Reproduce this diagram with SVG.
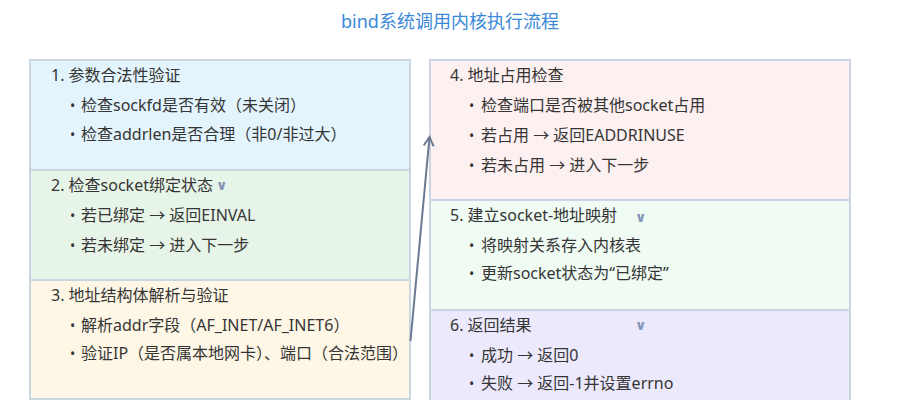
<svg xmlns="http://www.w3.org/2000/svg" width="900" height="400" viewBox="0 0 900 400">
  <defs>
    <style>
      .box { stroke: #c9d5e1; stroke-width: 2; }
      .t { font-family: "Noto Sans", "Noto Sans CJK SC", sans-serif; font-size: 16px; fill: #353535; }
      .b { font-family: "Noto Sans", sans-serif; font-size: 14px; fill: #353535; }
      .title { font-family: "Noto Sans", "Noto Sans CJK SC", sans-serif; font-size: 18px; fill: #3a88d8; }
      .chev { font-family: "DejaVu Sans", sans-serif; font-size: 14px; font-weight: bold; fill: #8494b4; }
      .conn { stroke: #6b7a90; stroke-width: 2; fill: none; }
    </style>
    <marker id="arr" viewBox="0 0 12 12" refX="10" refY="6" markerWidth="12" markerHeight="12" markerUnits="userSpaceOnUse" orient="auto">
      <path d="M1,1 L10,6 L1,11" fill="none" stroke="#6b7a90" stroke-width="2"/>
    </marker>
  </defs>
  <rect width="900" height="400" fill="#ffffff"/>
  <text class="title" x="450" y="28" text-anchor="middle">bind系统调用内核执行流程</text>

  <g id="node1">
    <rect class="box" x="30" y="60" width="380" height="110" fill="#e3f4fd"/>
    <text class="t" x="51" y="81">1. 参数合法性验证</text>
    <text class="b" x="70" y="111">•</text>
    <text class="t" x="81" y="111">检查sockfd是否有效（未关闭）</text>
    <text class="b" x="70" y="140">•</text>
    <text class="t" x="81" y="140">检查addrlen是否合理（非0/非过大）</text>
  </g>
  <g id="node2">
    <rect class="box" x="30" y="170" width="380" height="110" fill="#e7f4e8"/>
    <text class="t" x="51" y="191">2. 检查socket绑定状态</text>
    <text class="chev" x="216" y="190">∨</text>
    <text class="b" x="70" y="221">•</text>
    <text class="t" x="81" y="221">若已绑定 → 返回EINVAL</text>
    <text class="b" x="70" y="251">•</text>
    <text class="t" x="81" y="251">若未绑定 → 进入下一步</text>
  </g>
  <g id="node3">
    <rect class="box" x="30" y="280" width="380" height="119" fill="#fef7e6"/>
    <text class="t" x="51" y="301">3. 地址结构体解析与验证</text>
    <text class="b" x="70" y="331">•</text>
    <text class="t" x="81" y="331">解析addr字段（AF_INET/AF_INET6）</text>
    <text class="b" x="70" y="359">•</text>
    <text class="t" x="81" y="359">验证IP（是否属本地网卡）、端口（合法范围）</text>
  </g>
  <g id="node4">
    <rect class="box" x="430" y="60" width="420" height="140" fill="#fdf0f0"/>
    <text class="t" x="450" y="81">4. 地址占用检查</text>
    <text class="b" x="469" y="111">•</text>
    <text class="t" x="481" y="111">检查端口是否被其他socket占用</text>
    <text class="b" x="469" y="141">•</text>
    <text class="t" x="481" y="141">若占用 → 返回EADDRINUSE</text>
    <text class="b" x="469" y="171">•</text>
    <text class="t" x="481" y="171">若未占用 → 进入下一步</text>
  </g>
  <g id="node5">
    <rect class="box" x="430" y="200" width="420" height="110" fill="#effbf3"/>
    <text class="t" x="450" y="221">5. 建立socket-地址映射</text>
    <text class="chev" x="635" y="222">∨</text>
    <text class="b" x="469" y="251">•</text>
    <text class="t" x="481" y="251">将映射关系存入内核表</text>
    <text class="b" x="469" y="279">•</text>
    <text class="t" x="481" y="279">更新socket状态为“已绑定”</text>
  </g>
  <g id="node6">
    <rect class="box" x="430" y="310" width="420" height="92" fill="#ece9fd"/>
    <text class="t" x="450" y="331">6. 返回结果</text>
    <text class="chev" x="635" y="330">∨</text>
    <text class="b" x="469" y="361">•</text>
    <text class="t" x="481" y="361">成功 → 返回0</text>
    <text class="b" x="469" y="389">•</text>
    <text class="t" x="481" y="389">失败 → 返回-1并设置errno</text>
  </g>

  <g id="connectors">
    <line class="conn" x1="410.5" y1="341" x2="429.5" y2="137" marker-end="url(#arr)"/>
  </g>
</svg>
